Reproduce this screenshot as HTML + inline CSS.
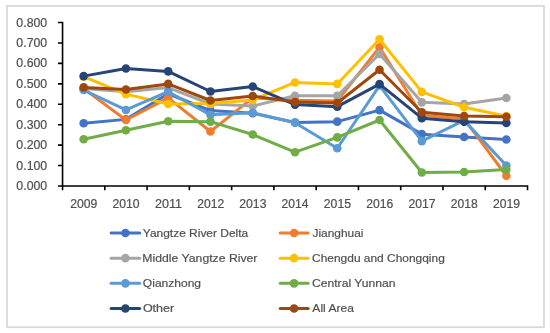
<!DOCTYPE html><html><head><meta charset="utf-8"><style>html,body{margin:0;padding:0;background:#fff;}svg{display:block;}text{font-family:"Liberation Sans",Arial,sans-serif;fill:#505050;stroke:#505050;stroke-width:0.2px;}</style></head><body>
<svg width="550" height="333" viewBox="0 0 550 333">
<rect x="0" y="0" width="550" height="333" fill="#fff"/>
<rect x="7" y="6" width="537" height="321.2" fill="#fff" stroke="#D9D9D9" stroke-width="1.8"/>
<text x="47.23" y="189.97" font-size="12.20" text-anchor="end" textLength="30.87" lengthAdjust="spacingAndGlyphs">0.000</text>
<text x="47.23" y="169.54" font-size="12.20" text-anchor="end" textLength="30.87" lengthAdjust="spacingAndGlyphs">0.100</text>
<text x="47.23" y="149.11" font-size="12.20" text-anchor="end" textLength="30.87" lengthAdjust="spacingAndGlyphs">0.200</text>
<text x="47.23" y="128.68" font-size="12.20" text-anchor="end" textLength="30.87" lengthAdjust="spacingAndGlyphs">0.300</text>
<text x="47.23" y="108.25" font-size="12.20" text-anchor="end" textLength="30.87" lengthAdjust="spacingAndGlyphs">0.400</text>
<text x="47.23" y="87.82" font-size="12.20" text-anchor="end" textLength="30.87" lengthAdjust="spacingAndGlyphs">0.500</text>
<text x="47.23" y="67.39" font-size="12.20" text-anchor="end" textLength="30.87" lengthAdjust="spacingAndGlyphs">0.600</text>
<text x="47.23" y="46.96" font-size="12.20" text-anchor="end" textLength="30.87" lengthAdjust="spacingAndGlyphs">0.700</text>
<text x="47.23" y="26.53" font-size="12.20" text-anchor="end" textLength="30.87" lengthAdjust="spacingAndGlyphs">0.800</text>
<text x="83.79" y="207.70" font-size="12.20" text-anchor="middle" textLength="27.14" lengthAdjust="spacingAndGlyphs">2009</text>
<text x="126.06" y="207.70" font-size="12.20" text-anchor="middle" textLength="27.17" lengthAdjust="spacingAndGlyphs">2010</text>
<text x="168.42" y="207.70" font-size="12.20" text-anchor="middle" textLength="27.05" lengthAdjust="spacingAndGlyphs">2011</text>
<text x="210.67" y="207.70" font-size="12.20" text-anchor="middle" textLength="26.99" lengthAdjust="spacingAndGlyphs">2012</text>
<text x="252.87" y="207.70" font-size="12.20" text-anchor="middle" textLength="27.15" lengthAdjust="spacingAndGlyphs">2013</text>
<text x="295.03" y="207.70" font-size="12.20" text-anchor="middle" textLength="26.90" lengthAdjust="spacingAndGlyphs">2014</text>
<text x="337.41" y="207.70" font-size="12.20" text-anchor="middle" textLength="27.16" lengthAdjust="spacingAndGlyphs">2015</text>
<text x="379.76" y="207.70" font-size="12.20" text-anchor="middle" textLength="27.00" lengthAdjust="spacingAndGlyphs">2016</text>
<text x="422.03" y="207.70" font-size="12.20" text-anchor="middle" textLength="27.12" lengthAdjust="spacingAndGlyphs">2017</text>
<text x="464.24" y="207.70" font-size="12.20" text-anchor="middle" textLength="26.87" lengthAdjust="spacingAndGlyphs">2018</text>
<text x="506.57" y="207.70" font-size="12.20" text-anchor="middle" textLength="27.11" lengthAdjust="spacingAndGlyphs">2019</text>
<path d="M62.55 21.76 V190.30 M57.95 186.00 H62.55 M57.95 165.57 H62.55 M57.95 145.14 H62.55 M57.95 124.71 H62.55 M57.95 104.28 H62.55 M57.95 83.85 H62.55 M57.95 63.42 H62.55 M57.95 42.99 H62.55 M57.95 22.56 H62.55 M57.95 186.00 H528.32 M62.55 186.00 V190.30 M104.82 186.00 V190.30 M147.09 186.00 V190.30 M189.36 186.00 V190.30 M231.63 186.00 V190.30 M273.90 186.00 V190.30 M316.17 186.00 V190.30 M358.44 186.00 V190.30 M400.71 186.00 V190.30 M442.98 186.00 V190.30 M485.25 186.00 V190.30 M527.52 186.00 V190.30" stroke="#000" stroke-width="1.6" fill="none"/>
<g><path d="M83.66 123.27 L125.93 119.38 L168.20 93.75 L210.47 110.56 L252.74 113.23 L295.01 122.45 L337.28 121.63 L379.55 110.15 L421.82 134.13 L464.09 137.00 L506.36 139.47" stroke="#4472C4" stroke-width="3.00" fill="none" stroke-linejoin="round" stroke-linecap="round"/>
<circle cx="83.66" cy="123.27" r="4.30" fill="#4472C4"/>
<circle cx="125.93" cy="119.38" r="4.30" fill="#4472C4"/>
<circle cx="168.20" cy="93.75" r="4.30" fill="#4472C4"/>
<circle cx="210.47" cy="110.56" r="4.30" fill="#4472C4"/>
<circle cx="252.74" cy="113.23" r="4.30" fill="#4472C4"/>
<circle cx="295.01" cy="122.45" r="4.30" fill="#4472C4"/>
<circle cx="337.28" cy="121.63" r="4.30" fill="#4472C4"/>
<circle cx="379.55" cy="110.15" r="4.30" fill="#4472C4"/>
<circle cx="421.82" cy="134.13" r="4.30" fill="#4472C4"/>
<circle cx="464.09" cy="137.00" r="4.30" fill="#4472C4"/>
<circle cx="506.36" cy="139.47" r="4.30" fill="#4472C4"/>
</g>
<g><path d="M83.66 88.62 L125.93 119.99 L168.20 97.85 L210.47 131.47 L252.74 97.85 L295.01 100.31 L337.28 100.92 L379.55 47.22 L421.82 115.28 L464.09 118.97 L506.36 175.75" stroke="#ED7D31" stroke-width="3.00" fill="none" stroke-linejoin="round" stroke-linecap="round"/>
<circle cx="83.66" cy="88.62" r="4.30" fill="#ED7D31"/>
<circle cx="125.93" cy="119.99" r="4.30" fill="#ED7D31"/>
<circle cx="168.20" cy="97.85" r="4.30" fill="#ED7D31"/>
<circle cx="210.47" cy="131.47" r="4.30" fill="#ED7D31"/>
<circle cx="252.74" cy="97.85" r="4.30" fill="#ED7D31"/>
<circle cx="295.01" cy="100.31" r="4.30" fill="#ED7D31"/>
<circle cx="337.28" cy="100.92" r="4.30" fill="#ED7D31"/>
<circle cx="379.55" cy="47.22" r="4.30" fill="#ED7D31"/>
<circle cx="421.82" cy="115.28" r="4.30" fill="#ED7D31"/>
<circle cx="464.09" cy="118.97" r="4.30" fill="#ED7D31"/>
<circle cx="506.36" cy="175.75" r="4.30" fill="#ED7D31"/>
</g>
<g><path d="M83.66 88.62 L125.93 91.70 L168.20 87.60 L210.47 104.00 L252.74 106.05 L295.01 95.80 L337.28 95.80 L379.55 53.98 L421.82 102.36 L464.09 104.00 L506.36 98.06" stroke="#A5A5A5" stroke-width="3.00" fill="none" stroke-linejoin="round" stroke-linecap="round"/>
<circle cx="83.66" cy="88.62" r="4.30" fill="#A5A5A5"/>
<circle cx="125.93" cy="91.70" r="4.30" fill="#A5A5A5"/>
<circle cx="168.20" cy="87.60" r="4.30" fill="#A5A5A5"/>
<circle cx="210.47" cy="104.00" r="4.30" fill="#A5A5A5"/>
<circle cx="252.74" cy="106.05" r="4.30" fill="#A5A5A5"/>
<circle cx="295.01" cy="95.80" r="4.30" fill="#A5A5A5"/>
<circle cx="337.28" cy="95.80" r="4.30" fill="#A5A5A5"/>
<circle cx="379.55" cy="53.98" r="4.30" fill="#A5A5A5"/>
<circle cx="421.82" cy="102.36" r="4.30" fill="#A5A5A5"/>
<circle cx="464.09" cy="104.00" r="4.30" fill="#A5A5A5"/>
<circle cx="506.36" cy="98.06" r="4.30" fill="#A5A5A5"/>
</g>
<g><path d="M83.66 76.73 L125.93 94.16 L168.20 104.00 L210.47 103.59 L252.74 99.90 L295.01 82.47 L337.28 83.91 L379.55 39.22 L421.82 91.91 L464.09 107.28 L506.36 116.30" stroke="#FFC000" stroke-width="3.00" fill="none" stroke-linejoin="round" stroke-linecap="round"/>
<circle cx="83.66" cy="76.73" r="4.30" fill="#FFC000"/>
<circle cx="125.93" cy="94.16" r="4.30" fill="#FFC000"/>
<circle cx="168.20" cy="104.00" r="4.30" fill="#FFC000"/>
<circle cx="210.47" cy="103.59" r="4.30" fill="#FFC000"/>
<circle cx="252.74" cy="99.90" r="4.30" fill="#FFC000"/>
<circle cx="295.01" cy="82.47" r="4.30" fill="#FFC000"/>
<circle cx="337.28" cy="83.91" r="4.30" fill="#FFC000"/>
<circle cx="379.55" cy="39.22" r="4.30" fill="#FFC000"/>
<circle cx="421.82" cy="91.91" r="4.30" fill="#FFC000"/>
<circle cx="464.09" cy="107.28" r="4.30" fill="#FFC000"/>
<circle cx="506.36" cy="116.30" r="4.30" fill="#FFC000"/>
</g>
<g><path d="M83.66 90.06 L125.93 109.95 L168.20 91.70 L210.47 114.87 L252.74 112.81 L295.01 122.66 L337.28 148.28 L379.55 85.55 L421.82 141.10 L464.09 120.40 L506.36 165.50" stroke="#5B9BD5" stroke-width="3.00" fill="none" stroke-linejoin="round" stroke-linecap="round"/>
<circle cx="83.66" cy="90.06" r="4.30" fill="#5B9BD5"/>
<circle cx="125.93" cy="109.95" r="4.30" fill="#5B9BD5"/>
<circle cx="168.20" cy="91.70" r="4.30" fill="#5B9BD5"/>
<circle cx="210.47" cy="114.87" r="4.30" fill="#5B9BD5"/>
<circle cx="252.74" cy="112.81" r="4.30" fill="#5B9BD5"/>
<circle cx="295.01" cy="122.66" r="4.30" fill="#5B9BD5"/>
<circle cx="337.28" cy="148.28" r="4.30" fill="#5B9BD5"/>
<circle cx="379.55" cy="85.55" r="4.30" fill="#5B9BD5"/>
<circle cx="421.82" cy="141.10" r="4.30" fill="#5B9BD5"/>
<circle cx="464.09" cy="120.40" r="4.30" fill="#5B9BD5"/>
<circle cx="506.36" cy="165.50" r="4.30" fill="#5B9BD5"/>
</g>
<g><path d="M83.66 139.26 L125.93 130.24 L168.20 121.22 L210.47 121.63 L252.74 134.55 L295.01 152.18 L337.28 137.41 L379.55 119.99 L421.82 172.47 L464.09 172.06 L506.36 169.60" stroke="#70AD47" stroke-width="3.00" fill="none" stroke-linejoin="round" stroke-linecap="round"/>
<circle cx="83.66" cy="139.26" r="4.30" fill="#70AD47"/>
<circle cx="125.93" cy="130.24" r="4.30" fill="#70AD47"/>
<circle cx="168.20" cy="121.22" r="4.30" fill="#70AD47"/>
<circle cx="210.47" cy="121.63" r="4.30" fill="#70AD47"/>
<circle cx="252.74" cy="134.55" r="4.30" fill="#70AD47"/>
<circle cx="295.01" cy="152.18" r="4.30" fill="#70AD47"/>
<circle cx="337.28" cy="137.41" r="4.30" fill="#70AD47"/>
<circle cx="379.55" cy="119.99" r="4.30" fill="#70AD47"/>
<circle cx="421.82" cy="172.47" r="4.30" fill="#70AD47"/>
<circle cx="464.09" cy="172.06" r="4.30" fill="#70AD47"/>
<circle cx="506.36" cy="169.60" r="4.30" fill="#70AD47"/>
</g>
<g><path d="M83.66 76.12 L125.93 68.54 L168.20 71.40 L210.47 91.49 L252.74 86.58 L295.01 104.61 L337.28 106.66 L379.55 84.11 L421.82 118.14 L464.09 121.83 L506.36 123.06" stroke="#264478" stroke-width="3.00" fill="none" stroke-linejoin="round" stroke-linecap="round"/>
<circle cx="83.66" cy="76.12" r="4.30" fill="#264478"/>
<circle cx="125.93" cy="68.54" r="4.30" fill="#264478"/>
<circle cx="168.20" cy="71.40" r="4.30" fill="#264478"/>
<circle cx="210.47" cy="91.49" r="4.30" fill="#264478"/>
<circle cx="252.74" cy="86.58" r="4.30" fill="#264478"/>
<circle cx="295.01" cy="104.61" r="4.30" fill="#264478"/>
<circle cx="337.28" cy="106.66" r="4.30" fill="#264478"/>
<circle cx="379.55" cy="84.11" r="4.30" fill="#264478"/>
<circle cx="421.82" cy="118.14" r="4.30" fill="#264478"/>
<circle cx="464.09" cy="121.83" r="4.30" fill="#264478"/>
<circle cx="506.36" cy="123.06" r="4.30" fill="#264478"/>
</g>
<g><path d="M83.66 87.40 L125.93 89.45 L168.20 83.91 L210.47 100.52 L252.74 96.00 L295.01 101.95 L337.28 102.97 L379.55 69.77 L421.82 112.20 L464.09 116.09 L506.36 116.71" stroke="#9E480E" stroke-width="3.00" fill="none" stroke-linejoin="round" stroke-linecap="round"/>
<circle cx="83.66" cy="87.40" r="4.30" fill="#9E480E"/>
<circle cx="125.93" cy="89.45" r="4.30" fill="#9E480E"/>
<circle cx="168.20" cy="83.91" r="4.30" fill="#9E480E"/>
<circle cx="210.47" cy="100.52" r="4.30" fill="#9E480E"/>
<circle cx="252.74" cy="96.00" r="4.30" fill="#9E480E"/>
<circle cx="295.01" cy="101.95" r="4.30" fill="#9E480E"/>
<circle cx="337.28" cy="102.97" r="4.30" fill="#9E480E"/>
<circle cx="379.55" cy="69.77" r="4.30" fill="#9E480E"/>
<circle cx="421.82" cy="112.20" r="4.30" fill="#9E480E"/>
<circle cx="464.09" cy="116.09" r="4.30" fill="#9E480E"/>
<circle cx="506.36" cy="116.71" r="4.30" fill="#9E480E"/>
</g>
<path d="M111.10 233.00 H139.70" stroke="#4472C4" stroke-width="3.00" stroke-linecap="round"/>
<circle cx="125.40" cy="233.00" r="4.30" fill="#4472C4"/>
<text x="142.89" y="236.90" font-size="11.80" textLength="105.28" lengthAdjust="spacingAndGlyphs">Yangtze River Delta</text>
<path d="M280.20 233.00 H308.10" stroke="#ED7D31" stroke-width="3.00" stroke-linecap="round"/>
<circle cx="294.10" cy="233.00" r="4.30" fill="#ED7D31"/>
<text x="312.53" y="236.90" font-size="11.80" textLength="50.91" lengthAdjust="spacingAndGlyphs">Jianghuai</text>
<path d="M111.10 258.17 H139.70" stroke="#A5A5A5" stroke-width="3.00" stroke-linecap="round"/>
<circle cx="125.40" cy="258.17" r="4.30" fill="#A5A5A5"/>
<text x="142.39" y="262.07" font-size="11.80" textLength="115.03" lengthAdjust="spacingAndGlyphs">Middle Yangtze River</text>
<path d="M280.20 258.17 H308.10" stroke="#FFC000" stroke-width="3.00" stroke-linecap="round"/>
<circle cx="294.10" cy="258.17" r="4.30" fill="#FFC000"/>
<text x="312.08" y="262.07" font-size="11.80" textLength="132.71" lengthAdjust="spacingAndGlyphs">Chengdu and Chongqing</text>
<path d="M111.10 283.34 H139.70" stroke="#5B9BD5" stroke-width="3.00" stroke-linecap="round"/>
<circle cx="125.40" cy="283.34" r="4.30" fill="#5B9BD5"/>
<text x="142.87" y="287.24" font-size="11.80" textLength="58.21" lengthAdjust="spacingAndGlyphs">Qianzhong</text>
<path d="M280.20 283.34 H308.10" stroke="#70AD47" stroke-width="3.00" stroke-linecap="round"/>
<circle cx="294.10" cy="283.34" r="4.30" fill="#70AD47"/>
<text x="311.91" y="287.24" font-size="11.80" textLength="83.61" lengthAdjust="spacingAndGlyphs">Central Yunnan</text>
<path d="M111.10 308.51 H139.70" stroke="#264478" stroke-width="3.00" stroke-linecap="round"/>
<circle cx="125.40" cy="308.51" r="4.30" fill="#264478"/>
<text x="142.90" y="312.41" font-size="11.80" textLength="31.29" lengthAdjust="spacingAndGlyphs">Other</text>
<path d="M280.20 308.51 H308.10" stroke="#9E480E" stroke-width="3.00" stroke-linecap="round"/>
<circle cx="294.10" cy="308.51" r="4.30" fill="#9E480E"/>
<text x="312.37" y="312.41" font-size="11.80" textLength="41.47" lengthAdjust="spacingAndGlyphs">All Area</text>
</svg></body></html>
